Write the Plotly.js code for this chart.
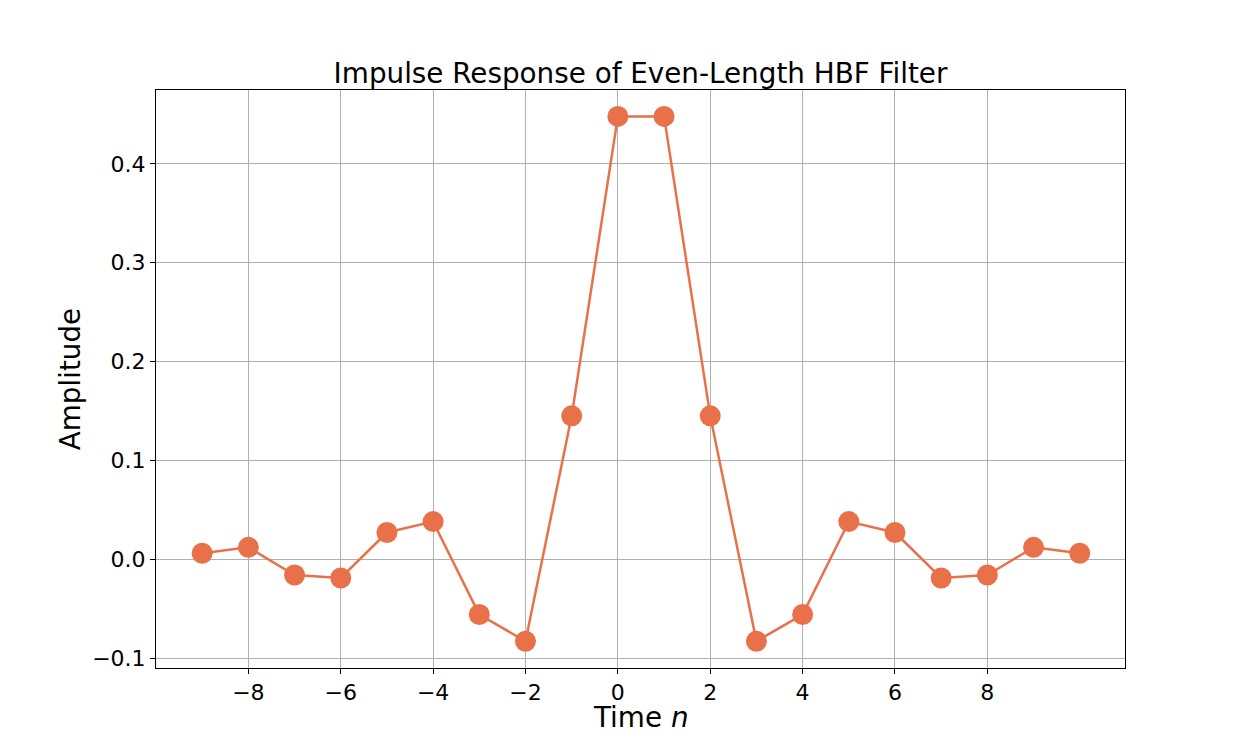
<!DOCTYPE html>
<html>
<head>
<meta charset="utf-8">
<script src="https://cdn.plot.ly/plotly-3.0.1.min.js"></script>
<style>html,body{margin:0;padding:0;background:#fff;}#chart{width:1250px;height:750px;}</style>
</head>
<body>
<div id="chart"></div>
<script>
const timeN = [-9, -8, -7, -6, -5, -4, -3, -2, -1, 0, 1, 2, 3, 4, 5, 6, 7, 8, 9, 10];
const amplitude = [0.006, 0.012, -0.016, -0.019, 0.027, 0.038, -0.056, -0.083, 0.145, 0.448,
                   0.448, 0.145, -0.083, -0.056, 0.038, 0.027, -0.019, -0.016, 0.012, 0.006];
const xTicks = [-8, -6, -4, -2, 0, 2, 4, 6, 8];
const yTicks = [-0.1, 0.0, 0.1, 0.2, 0.3, 0.4];
const fmt = v => (v < 0 ? '\u2212' : '') + Math.abs(v);
const fmtY = v => (v < 0 ? '\u2212' : '') + Math.abs(v).toFixed(1);

const color = '#E8714A';
const trace = {
  x: timeN, y: amplitude, mode: 'lines+markers', type: 'scatter',
  line: {color: color, width: 2.5},
  marker: {color: color, size: 21},
  hoverinfo: 'skip'
};
const font = {family: 'DejaVu Sans, sans-serif', color: '#000'};
const layout = {
  width: 1250, height: 750,
  margin: {l: 156, r: 125, t: 90, b: 82},
  paper_bgcolor: '#fff', plot_bgcolor: '#fff',
  showlegend: false,
  title: {text: 'Impulse Response of Even-Length HBF Filter', font: Object.assign({size: 27.8}, font),
          xref: 'paper', x: 0.5, xanchor: 'center', y: 1 - 73/750, yanchor: 'middle'},
  annotations: [{
    text: 'Time <i>n</i>', xref: 'paper', yref: 'paper', x: 0.5, y: -0.086,
    xanchor: 'center', yanchor: 'middle', showarrow: false,
    font: Object.assign({size: 27.8}, font)
  }],
  xaxis: {
    range: [-10.0, 10.98], tickvals: xTicks, ticktext: xTicks.map(fmt),
    showgrid: true, gridcolor: '#b0b0b0', gridwidth: 1, zeroline: false,
    showline: true, linecolor: '#000', linewidth: 1, mirror: true,
    ticks: 'outside', ticklen: 5, tickcolor: '#000', tickwidth: 1,
    tickfont: Object.assign({size: 22}, font)
  },
  yaxis: {
    range: [-0.1101, 0.4747], tickvals: yTicks, ticktext: yTicks.map(fmtY),
    showgrid: true, gridcolor: '#b0b0b0', gridwidth: 1, zeroline: false,
    showline: true, linecolor: '#000', linewidth: 1, mirror: true,
    ticks: 'outside', ticklen: 5, tickcolor: '#000', tickwidth: 1,
    tickfont: Object.assign({size: 22}, font),
    title: {text: 'Amplitude', font: Object.assign({size: 27.8}, font), standoff: 3}
  }
};
Plotly.newPlot('chart', [trace], layout, {displayModeBar: false, staticPlot: true});
</script>
</body>
</html>
